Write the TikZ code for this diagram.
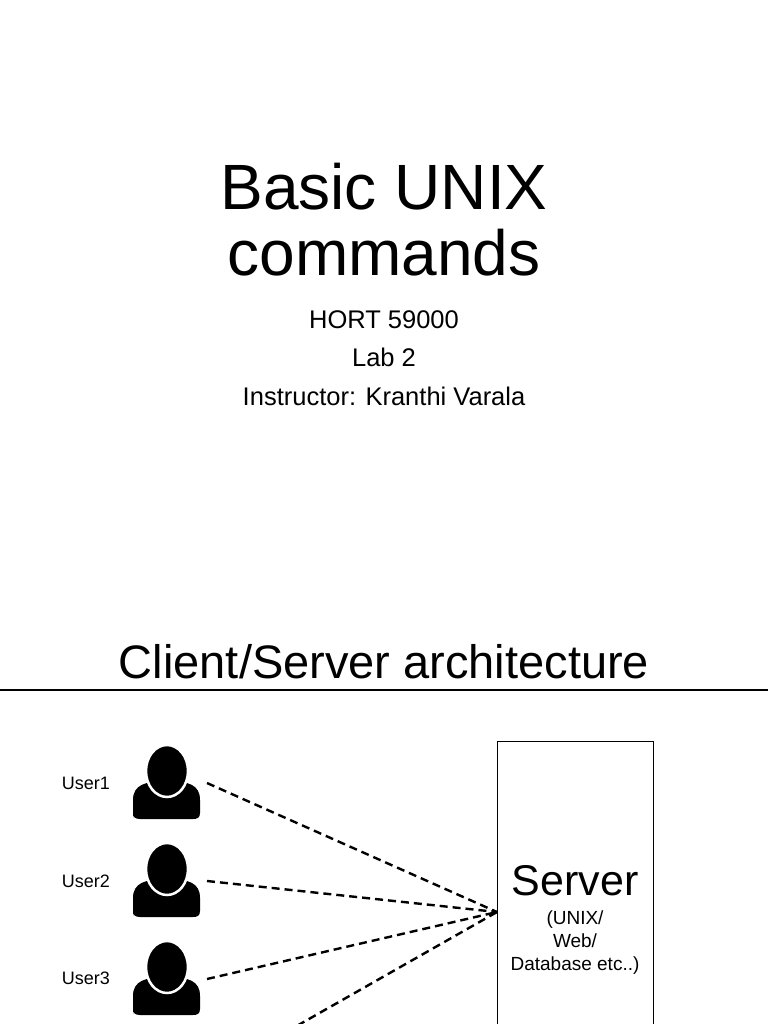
\documentclass[tikz,border=0pt]{standalone}
\usepackage{fontspec}
\setmainfont{Liberation Sans}
\begin{document}
\begin{tikzpicture}[x=1pt,y=-1pt,
  link/.style={line width=2.4pt,dash pattern=on 8pt off 5pt},
  lbl/.style={font=\fontsize{18}{20}\selectfont,anchor=center}]
\useasboundingbox (0,0) rectangle (768,1024);
\clip (0,0) rectangle (768,1024);
\node (t1) at (384,187) {\fontsize{64}{68}\selectfont Basic UNIX};
\node (t2) at (384,253) {\fontsize{64}{68}\selectfont commands};
\node (s1) at (384,320) {\fontsize{25.5}{28}\selectfont HORT 59000};
\node (s2) at (384,357) {\fontsize{25.5}{28}\selectfont Lab 2};
\node (s3) at (384,396) {\fontsize{25.5}{28}\selectfont Instructor: Kranthi Varala};
\node (t3) at (384,662) {\fontsize{47}{50}\selectfont Client/Server architecture};
\draw[line width=2pt] (0,690) -- (768,690);
\node[draw,line width=0.8pt,minimum width=156pt,minimum height=400pt,anchor=north west] (srv) at (497,741) {};
\node (srvt) at (575,881) {\fontsize{43}{45}\selectfont Server};
\node[align=center,font=\fontsize{19}{23}\selectfont] (srvs) at (575,943) {(UNIX/\\Web/\\Database etc..)};
\coordinate (hub) at (497,912);
\foreach \i/\y in {1/0,2/98,3/196,4/294}{
  \fill (133,\y+818) -- (133,\y+800) .. controls (133,\y+785) and (145,\y+781) .. (167,\y+781)
     .. controls (189,\y+781) and (200,\y+785) .. (200,\y+800) -- (200,\y+813)
     .. controls (200,\y+818) and (197,\y+819) .. (193,\y+819) -- (140,\y+819)
     .. controls (135,\y+819) and (133,\y+817) .. (133,\y+813) -- cycle;
  \draw[fill=black,draw=white,line width=2.5pt] (167,\y+771) ellipse (21pt and 26pt);
  \coordinate (u\i) at (207,\y+783);
  \draw[link] (u\i) -- (hub);
}
\node[lbl] (l1) at (86,783) {User1};
\node[lbl] (l2) at (86,881) {User2};
\node[lbl] (l3) at (86,978) {User3};
\end{tikzpicture}
\end{document}
